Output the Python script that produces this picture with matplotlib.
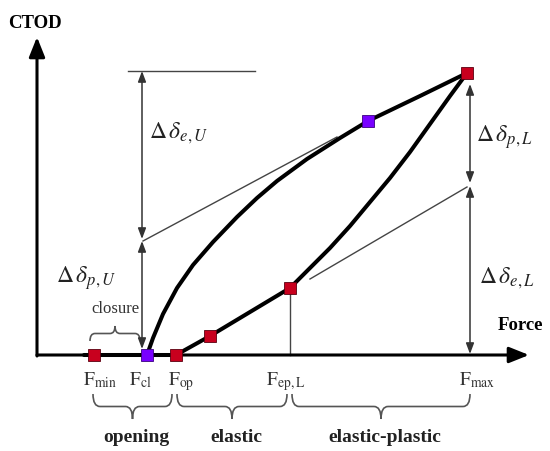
import matplotlib
matplotlib.use('Agg')
import matplotlib.pyplot as plt
from matplotlib.path import Path
from matplotlib.patches import PathPatch

plt.rcParams['mathtext.fontset'] = 'stix'
plt.rcParams['font.family'] = ['Liberation Serif', 'DejaVu Serif']

# ---------------- data (Force, CTOD in arbitrary schematic units) ----------------
force_labels = [r'$\mathrm{F}_{\mathrm{min}}$', r'$\mathrm{F}_{\mathrm{cl}}$',
                r'$\mathrm{F}_{\mathrm{op}}$', r'$\mathrm{F}_{\mathrm{ep,L}}$',
                r'$\mathrm{F}_{\mathrm{max}}$']
force_ticks = [57, 110, 139, 253, 430]

# loading branch: F_op -> intermediate point -> F_ep,L (linear), then curved to F_max
load_lin_F = [139, 173, 253]
load_lin_C = [0, 19, 67]
load_curve_F = [253, 273, 293, 313, 333, 353, 373, 393, 413, 430]
load_curve_C = [67, 87, 107, 129, 153, 177, 203, 231, 259, 282]

# unloading branch: F_max -> F_cl
unload_F = [430, 383, 331, 303, 270, 240, 220, 200, 176, 156, 140, 126, 116, 110]
unload_C = [282, 259, 234, 217, 196, 174, 157, 138, 113, 90, 67, 41, 17, 0]

# red markers and purple markers
red_F = [57, 139, 173, 253, 430]
red_C = [0, 0, 19, 67, 282]
purple_F = [110, 331]
purple_C = [0, 234]

# thin parallel (elastic) lines
tangent_U_F = [106, 300]
tangent_U_C = [114, 218]
tangent_L_F = [273, 430]
tangent_L_C = [76, 168]

# dimension arrows
dim_U_F = 105
dim_U_levels = [284, 116, 114, 6]     # e,U top/bottom ; p,U top/bottom
dim_U_line = [91, 218]                 # horizontal reference line (F range)
dim_L_F = 433
dim_L_levels = [271, 172, 169, 1]      # p,L top/bottom ; e,L top/bottom

regime_labels = ['opening', 'elastic', 'elastic-plastic']
delta_labels = [r'$\Delta\,\delta_{e,U}$', r'$\Delta\,\delta_{p,U}$',
                r'$\Delta\,\delta_{p,L}$', r'$\Delta\,\delta_{e,L}$']

# ---------------- figure ----------------
fig = plt.figure(figsize=(5.5, 4.52), dpi=100)
ax = fig.add_axes([0, 0, 1, 1])
ax.set_xlim(-37, 513)
ax.set_ylim(-96, 356)
ax.axis('off')

# axes with arrows
ax.annotate('', xy=(492, 0), xytext=(0, 0),
            arrowprops=dict(arrowstyle='-|>,head_length=0.4,head_width=0.16',
                            mutation_scale=30, lw=2.2, color='black',
                            shrinkA=0, shrinkB=0))
ax.annotate('', xy=(0, 318), xytext=(0, -1),
            arrowprops=dict(arrowstyle='-|>,head_length=0.4,head_width=0.16',
                            mutation_scale=30, lw=2.2, color='black',
                            shrinkA=0, shrinkB=0))
ax.text(-2, 332, 'CTOD', ha='center', va='center', fontsize=13.5, fontweight='bold')
ax.text(483, 30, 'Force', ha='center', va='center', fontsize=13.5, fontweight='bold')

# thin tangent lines
thin = dict(color='#444444', lw=1.0)
ax.plot(tangent_U_F, tangent_U_C, **thin)
ax.plot(tangent_L_F, tangent_L_C, **thin)
ax.plot([force_ticks[3], force_ticks[3]], [0, load_lin_C[-1] - 3], **thin)
ax.plot(dim_U_line, [dim_U_levels[0]] * 2, **thin)

# curves
thick = dict(color='black', lw=2.9, solid_joinstyle='round', solid_capstyle='round')
ax.plot([force_ticks[0] - 10, force_ticks[2]], [0, 0], **thick)
ax.plot(load_lin_F, load_lin_C, **thick)
ax.plot(load_curve_F, load_curve_C, **thick)
ax.plot(unload_F, unload_C, **thick)

# markers
ax.plot(red_F, red_C, 's', ms=8.5, mfc='#c8001e', mec='#5a0010', mew=0.6, zorder=5)
ax.plot(purple_F, purple_C, 's', ms=8.5, mfc='#7800ff', mec='#3a0080', mew=0.6, zorder=5)

# double arrows
def darrow(x, y0, y1):
    ax.annotate('', xy=(x, y1), xytext=(x, y0),
                arrowprops=dict(arrowstyle='<|-|>,head_length=0.4,head_width=0.15',
                                mutation_scale=16, lw=1.1, color='#333333',
                                shrinkA=0, shrinkB=0))

darrow(dim_U_F, dim_U_levels[0], dim_U_levels[1])
darrow(dim_U_F, dim_U_levels[2], dim_U_levels[3])
darrow(dim_L_F, dim_L_levels[0], dim_L_levels[1])
darrow(dim_L_F, dim_L_levels[2], dim_L_levels[3])

dcol = '#222222'
dfs = 17
ax.text(112, 218, delta_labels[0], fontsize=dfs, color=dcol, ha='left', va='baseline')
ax.text(19, 73, delta_labels[1], fontsize=dfs, color=dcol, ha='left', va='baseline')
ax.text(439, 214, delta_labels[2], fontsize=dfs, color=dcol, ha='left', va='baseline')
ax.text(442, 73, delta_labels[3], fontsize=dfs, color=dcol, ha='left', va='baseline')

# braces
def brace(x0, x1, y, h, r=6):
    xm = 0.5 * (x0 + x1)
    ym = y + 0.5 * h
    verts = [(x0, y), (x0, ym), (x0 + r, ym),
             (xm - r, ym),
             (xm, ym), (xm, y + h),
             (xm, ym), (xm + r, ym),
             (x1 - r, ym),
             (x1, ym), (x1, y)]
    codes = [Path.MOVETO, Path.CURVE3, Path.CURVE3,
             Path.LINETO,
             Path.CURVE3, Path.CURVE3,
             Path.CURVE3, Path.CURVE3,
             Path.LINETO,
             Path.CURVE3, Path.CURVE3]
    ax.add_patch(PathPatch(Path(verts, codes), fill=False, ec='#555555', lw=1.2))
    return xm

cx = brace(force_ticks[0] - 4, force_ticks[1] - 7, 14, 15, r=5)
ax.text(cx, 47, 'closure', ha='center', va='center', fontsize=12, color='#333333')

spans = [(force_ticks[0] - 1, force_ticks[2] - 4),
         (force_ticks[2] + 1, force_ticks[3] - 3),
         (force_ticks[3] + 2, force_ticks[4] + 3)]
for (a, b), lab in zip(spans, regime_labels):
    xm = brace(a, b, -39, -25, r=7)
    ax.text(xm + 4, -86, lab, ha='center', va='baseline', fontsize=14,
            fontweight='bold', color='#222222')

# force tick labels
label_offsets = [6, -7, 5, -4, 10]
for f, lab, off in zip(force_ticks, force_labels, label_offsets):
    ax.text(f + off, -29, lab, ha='center', va='baseline', fontsize=14, color='#333333')

fig.savefig('out.png', dpi=100)
